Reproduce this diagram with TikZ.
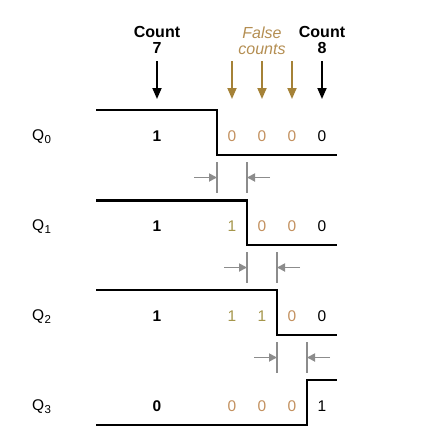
\documentclass[tikz,border=0pt]{standalone}
\usepackage{fontspec}
\setmainfont{Liberation Sans}
\usetikzlibrary{arrows.meta}
\definecolor{ftext}{RGB}{180,142,82}
\definecolor{farrow}{RGB}{165,130,55}
\definecolor{fzero}{RGB}{195,145,95}
\definecolor{fone}{RGB}{165,150,75}
\definecolor{markgray}{RGB}{140,140,140}
\newcommand{\qsub}[1]{Q\kern0.3pt\raisebox{-3.5pt}{\fontsize{11.5}{11.5}\selectfont #1}}
\begin{document}
\begin{tikzpicture}[x=1pt,y=-1pt,
  wave/.style={line width=2.8pt, line cap=butt, line join=miter},
  cnt/.style={font=\fontsize{16}{16}\selectfont\bfseries, align=center, inner sep=0pt},
  fcnt/.style={font=\fontsize{16}{16}\selectfont\itshape, align=center, inner sep=0pt, text=ftext},
  digit/.style={font=\fontsize{15.5}{15.5}\selectfont, inner sep=0pt},
  bdigit/.style={font=\fontsize{15.5}{15.5}\selectfont\bfseries, inner sep=0pt},
  qlab/.style={font=\fontsize{15.5}{15.5}\selectfont, inner sep=0pt, anchor=west},
  darrow/.style={line width=1.8pt, -{Triangle[length=11pt,width=9pt]}},
  garrow/.style={darrow, farrow},
  mline/.style={markgray, line width=1.8pt},
  marr/.style={markgray, line width=1.8pt, -{Triangle[length=8pt,width=8pt]}}
]
\useasboundingbox (0,0) rectangle (421,440);

% headings
\node[cnt] (c7) at (157,40) {Count\\7};
\node[fcnt] (fc) at (262,41) {False\\counts};
\node[cnt] (c8) at (322,40) {Count\\8};

% pointer arrows
\coordinate (p7s) at (157,61); \coordinate (p7e) at (157,99);
\coordinate (pas) at (232,61); \coordinate (pae) at (232,99);
\coordinate (pbs) at (262,61); \coordinate (pbe) at (262,99);
\coordinate (pcs) at (292,61); \coordinate (pce) at (292,99);
\coordinate (p8s) at (322,61); \coordinate (p8e) at (322,99);
\draw[darrow] (p7s) -- (p7e);
\draw[garrow] (pas) -- (pae);
\draw[garrow] (pbs) -- (pbe);
\draw[garrow] (pcs) -- (pce);
\draw[darrow] (p8s) -- (p8e);

% labels
\node[qlab] (q0) at (32,136.5) {\qsub{0}};
\node[qlab] (q1) at (32,226.5) {\qsub{1}};
\node[qlab] (q2) at (32,316.5) {\qsub{2}};
\node[qlab] (q3) at (32,406.5) {\qsub{3}};

% waveforms
\coordinate (w0a) at (96,110); \coordinate (w0b) at (217,110);
\coordinate (w0c) at (217,155); \coordinate (w0d) at (337,155);
\draw[wave] (w0a) -- (w0b) -- (w0c) -- (w0d);
\coordinate (w1a) at (96,200.5); \coordinate (w1b) at (247,200.5);
\coordinate (w1c) at (247,245); \coordinate (w1d) at (337,245);
\draw[wave] (w1a) -- (w1b) -- (w1c) -- (w1d);
\coordinate (w2a) at (96,290); \coordinate (w2b) at (277,290);
\coordinate (w2c) at (277,335); \coordinate (w2d) at (337,335);
\draw[wave] (w2a) -- (w2b) -- (w2c) -- (w2d);
\coordinate (w3a) at (96,425); \coordinate (w3b) at (307,425);
\coordinate (w3c) at (307,380); \coordinate (w3d) at (337,380);
\draw[wave] (w3a) -- (w3b) -- (w3c) -- (w3d);

% digits Q0
\node[bdigit] (d00) at (157,136.5) {1};
\node[digit,text=fzero] (d01) at (232,136.5) {0};
\node[digit,text=fzero] (d02) at (262,136.5) {0};
\node[digit,text=fzero] (d03) at (292,136.5) {0};
\node[digit] (d04) at (322,136.5) {0};
% digits Q1
\node[bdigit] (d10) at (157,226.5) {1};
\node[digit,text=fone] (d11) at (232,226.5) {1};
\node[digit,text=fzero] (d12) at (262,226.5) {0};
\node[digit,text=fzero] (d13) at (292,226.5) {0};
\node[digit] (d14) at (322,226.5) {0};
% digits Q2
\node[bdigit] (d20) at (157,316.5) {1};
\node[digit,text=fone] (d21) at (232,316.5) {1};
\node[digit,text=fone] (d22) at (262,316.5) {1};
\node[digit,text=fzero] (d23) at (292,316.5) {0};
\node[digit] (d24) at (322,316.5) {0};
% digits Q3
\node[bdigit] (d30) at (157,406.5) {0};
\node[digit,text=fzero] (d31) at (232,406.5) {0};
\node[digit,text=fzero] (d32) at (262,406.5) {0};
\node[digit,text=fzero] (d33) at (292,406.5) {0};
\node[digit] (d34) at (322,406.5) {1};

% delay markers
\foreach \i/\xa/\xb/\yt in {1/217/247/162, 2/247/277/252, 3/277/307/342} {
  \coordinate (m\i at) at (\xa,\yt);
  \coordinate (m\i ab) at (\xa,\yt+30.5);
  \coordinate (m\i bt) at (\xb,\yt);
  \coordinate (m\i bb) at (\xb,\yt+30.5);
  \coordinate (m\i ls) at (\xa-23,\yt+15.5);
  \coordinate (m\i le) at (\xa,\yt+15.5);
  \coordinate (m\i rs) at (\xb+23,\yt+15.5);
  \coordinate (m\i re) at (\xb,\yt+15.5);
  \draw[mline] (m\i at) -- (m\i ab);
  \draw[mline] (m\i bt) -- (m\i bb);
  \draw[marr] (m\i ls) -- (m\i le);
  \draw[marr] (m\i rs) -- (m\i re);
}
\end{tikzpicture}
\end{document}
